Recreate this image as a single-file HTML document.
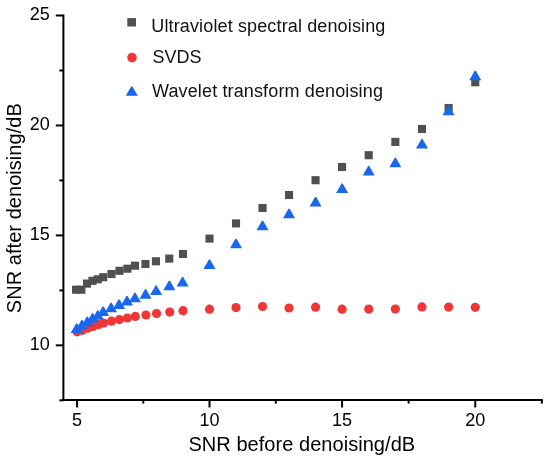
<!DOCTYPE html>
<html><head><meta charset="utf-8"><style>
html,body{margin:0;padding:0;background:#fff;width:550px;height:464px;overflow:hidden}
svg{display:block;font-family:"Liberation Sans",Arial,sans-serif}
</style></head><body>
<svg width="550" height="464" viewBox="0 0 550 464">
<rect width="550" height="464" fill="#fff"/>
<g stroke="#000" stroke-width="2" fill="none">
<line x1="63.4" y1="14.50" x2="63.4" y2="401.0"/>
<line x1="62.4" y1="400.0" x2="542.86" y2="400.0"/>
<line x1="55.80" y1="345.35" x2="63.40" y2="345.35"/>
<line x1="55.80" y1="235.40" x2="63.40" y2="235.40"/>
<line x1="55.80" y1="125.45" x2="63.40" y2="125.45"/>
<line x1="55.80" y1="15.50" x2="63.40" y2="15.50"/>
<line x1="59.40" y1="400.33" x2="63.40" y2="400.33"/>
<line x1="59.40" y1="290.38" x2="63.40" y2="290.38"/>
<line x1="59.40" y1="180.43" x2="63.40" y2="180.43"/>
<line x1="59.40" y1="70.48" x2="63.40" y2="70.48"/>
<line x1="77.07" y1="400.00" x2="77.07" y2="407.50"/>
<line x1="209.50" y1="400.00" x2="209.50" y2="407.50"/>
<line x1="342.07" y1="400.00" x2="342.07" y2="407.50"/>
<line x1="475.26" y1="400.00" x2="475.26" y2="407.50"/>
<line x1="143.28" y1="400.00" x2="143.28" y2="403.60"/>
<line x1="275.78" y1="400.00" x2="275.78" y2="403.60"/>
<line x1="408.66" y1="400.00" x2="408.66" y2="403.60"/>
<line x1="541.86" y1="400.00" x2="541.86" y2="403.60"/>
</g>
<g font-size="18" fill="#000">
<text x="49.8" y="349.55" text-anchor="end">10</text>
<text x="49.8" y="239.60" text-anchor="end">15</text>
<text x="49.8" y="129.65" text-anchor="end">20</text>
<text x="49.8" y="20.30" text-anchor="end">25</text>
<text x="77.07" y="426" text-anchor="middle">5</text>
<text x="209.50" y="426" text-anchor="middle">10</text>
<text x="342.07" y="426" text-anchor="middle">15</text>
<text x="475.26" y="426" text-anchor="middle">20</text>
</g>
<text x="301.8" y="450.5" font-size="20" text-anchor="middle" textLength="226.7" lengthAdjust="spacing">SNR before denoising/dB</text>
<text transform="translate(20.7,208.2) rotate(-90)" font-size="20" text-anchor="middle" textLength="210" lengthAdjust="spacing">SNR after denoising/dB</text>
<g fill="#505050">
<rect x="72.02" y="285.65" width="8.1" height="8.1"/>
<rect x="77.32" y="285.65" width="8.1" height="8.1"/>
<rect x="83.01" y="279.55" width="8.1" height="8.1"/>
<rect x="88.41" y="276.75" width="8.1" height="8.1"/>
<rect x="93.81" y="275.25" width="8.1" height="8.1"/>
<rect x="99.21" y="273.15" width="8.1" height="8.1"/>
<rect x="107.45" y="269.95" width="8.1" height="8.1"/>
<rect x="115.40" y="266.75" width="8.1" height="8.1"/>
<rect x="123.34" y="264.65" width="8.1" height="8.1"/>
<rect x="130.99" y="261.65" width="8.1" height="8.1"/>
<rect x="141.38" y="259.95" width="8.1" height="8.1"/>
<rect x="151.88" y="257.25" width="8.1" height="8.1"/>
<rect x="165.22" y="254.55" width="8.1" height="8.1"/>
<rect x="178.96" y="249.95" width="8.1" height="8.1"/>
<rect x="205.45" y="234.55" width="8.1" height="8.1"/>
<rect x="231.96" y="219.35" width="8.1" height="8.1"/>
<rect x="258.48" y="203.95" width="8.1" height="8.1"/>
<rect x="284.99" y="190.95" width="8.1" height="8.1"/>
<rect x="311.51" y="176.15" width="8.1" height="8.1"/>
<rect x="338.02" y="162.95" width="8.1" height="8.1"/>
<rect x="364.66" y="151.15" width="8.1" height="8.1"/>
<rect x="391.30" y="137.85" width="8.1" height="8.1"/>
<rect x="417.93" y="124.95" width="8.1" height="8.1"/>
<rect x="444.57" y="103.95" width="8.1" height="8.1"/>
<rect x="471.21" y="78.25" width="8.1" height="8.1"/>
<rect x="127.3" y="18.1" width="8.7" height="8.4"/>
</g>
<g fill="#f03636">
<circle cx="77.07" cy="331.80" r="4.6"/>
<circle cx="82.37" cy="330.30" r="4.6"/>
<circle cx="87.66" cy="328.20" r="4.6"/>
<circle cx="92.96" cy="326.40" r="4.6"/>
<circle cx="98.26" cy="324.70" r="4.6"/>
<circle cx="103.56" cy="323.10" r="4.6"/>
<circle cx="111.50" cy="321.20" r="4.6"/>
<circle cx="119.45" cy="319.60" r="4.6"/>
<circle cx="127.39" cy="318.00" r="4.6"/>
<circle cx="135.34" cy="316.40" r="4.6"/>
<circle cx="145.93" cy="315.00" r="4.6"/>
<circle cx="156.53" cy="313.50" r="4.6"/>
<circle cx="169.77" cy="312.00" r="4.6"/>
<circle cx="183.01" cy="310.70" r="4.6"/>
<circle cx="209.50" cy="309.20" r="4.6"/>
<circle cx="236.01" cy="307.60" r="4.6"/>
<circle cx="262.53" cy="306.50" r="4.6"/>
<circle cx="289.04" cy="308.00" r="4.6"/>
<circle cx="315.56" cy="307.20" r="4.6"/>
<circle cx="342.07" cy="309.20" r="4.6"/>
<circle cx="368.71" cy="309.10" r="4.6"/>
<circle cx="395.35" cy="309.10" r="4.6"/>
<circle cx="421.98" cy="306.90" r="4.6"/>
<circle cx="448.62" cy="307.10" r="4.6"/>
<circle cx="475.26" cy="307.30" r="4.6"/>
<circle cx="132" cy="57.6" r="4.8"/>
</g>
<g fill="#1867ec">
<path d="M76.07 323.55L77.27 323.55L82.67 333.05L70.67 333.05Z"/>
<path d="M81.37 320.05L82.57 320.05L87.97 329.55L75.97 329.55Z"/>
<path d="M86.66 316.65L87.86 316.65L93.26 326.15L81.26 326.15Z"/>
<path d="M91.96 313.25L93.16 313.25L98.56 322.75L86.56 322.75Z"/>
<path d="M97.26 310.25L98.46 310.25L103.86 319.75L91.86 319.75Z"/>
<path d="M102.56 306.55L103.76 306.55L109.16 316.05L97.16 316.05Z"/>
<path d="M110.50 302.75L111.70 302.75L117.10 312.25L105.10 312.25Z"/>
<path d="M118.45 299.55L119.65 299.55L125.05 309.05L113.05 309.05Z"/>
<path d="M126.39 295.95L127.59 295.95L132.99 305.45L120.99 305.45Z"/>
<path d="M134.34 292.65L135.54 292.65L140.94 302.15L128.94 302.15Z"/>
<path d="M144.93 289.35L146.13 289.35L151.53 298.85L139.53 298.85Z"/>
<path d="M155.53 285.55L156.73 285.55L162.13 295.05L150.13 295.05Z"/>
<path d="M168.77 280.65L169.97 280.65L175.37 290.15L163.37 290.15Z"/>
<path d="M182.01 276.95L183.21 276.95L188.61 286.45L176.61 286.45Z"/>
<path d="M208.90 259.45L210.10 259.45L215.50 268.95L203.50 268.95Z"/>
<path d="M235.41 238.75L236.61 238.75L242.01 248.25L230.01 248.25Z"/>
<path d="M261.93 220.75L263.13 220.75L268.53 230.25L256.53 230.25Z"/>
<path d="M288.44 208.85L289.64 208.85L295.04 218.35L283.04 218.35Z"/>
<path d="M314.96 196.95L316.16 196.95L321.56 206.45L309.56 206.45Z"/>
<path d="M341.47 183.45L342.67 183.45L348.07 192.95L336.07 192.95Z"/>
<path d="M368.11 166.05L369.31 166.05L374.71 175.55L362.71 175.55Z"/>
<path d="M394.75 157.65L395.95 157.65L401.35 167.15L389.35 167.15Z"/>
<path d="M421.38 138.95L422.58 138.95L427.98 148.45L415.98 148.45Z"/>
<path d="M448.02 105.75L449.22 105.75L454.62 115.25L442.62 115.25Z"/>
<path d="M474.66 70.75L475.86 70.75L481.26 80.25L469.26 80.25Z"/>
<path d="M131.2 86.6L132.4 86.6L137.8 95.8L125.8 95.8Z"/>
</g>
<g font-size="18" fill="#111">
<text x="151.3" y="31.6" textLength="234" lengthAdjust="spacing">Ultraviolet spectral denoising</text>
<text x="152.5" y="63">SVDS</text>
<text x="152" y="97.2" textLength="230.9" lengthAdjust="spacing">Wavelet transform denoising</text>
</g>
</svg>
</body></html>
